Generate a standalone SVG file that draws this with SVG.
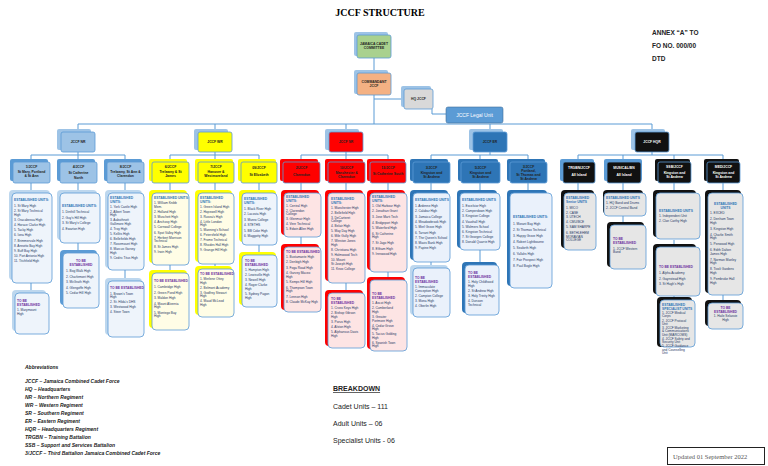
<svg xmlns="http://www.w3.org/2000/svg" width="768" height="466" viewBox="0 0 768 466">
<style>
text{font-family:"Liberation Sans",Arial,sans-serif;}
text.serif{font-family:"Liberation Serif","Times New Roman",serif;}
.bx{stroke:#5b9bd5;stroke-width:0.8}
.lb{stroke:#5b9bd5;stroke-width:0.8}
.c{fill:none;stroke:#5b9bd5;stroke-width:1}
.bl{font-size:3.4px;font-weight:bold;text-anchor:middle;fill:#222}
.w{fill:#fff}
.t{font-size:3.2px;fill:#1f3864}
.h{font-size:3.3px;font-weight:bold;fill:#2e75b6}
.p{font-size:3.3px;font-weight:bold;fill:#7030a0}
.ab{font-size:5px;font-style:italic;font-weight:bold;fill:#222}
.bd{font-size:7px;fill:#222}
</style>
<rect width="768" height="466" fill="#fff"/>
<text class="serif" x="380" y="16" text-anchor="middle" font-weight="bold" font-size="10">JCCF STRUCTURE</text>
<g font-size="6.5" font-weight="bold" fill="#222"><text x="652" y="35">ANNEX “A” TO</text><text x="652" y="48">FO NO. 000/00</text><text x="652" y="61">DTD</text></g>

<g id="connectors" class="c">
<path d="M374 58V73M374 95V124M374 99H404M432 109V114H446M78 124H652M78 124V132M215 124V132M346 124V132M490 124V132M652 124V132"/>
<path d="M78 152V155M31 155H125M31 155V162M78 155V162M125 155V162"/>
<path d="M215 152V155M170 155H259M170 155V162M215 155V162M259 155V162"/>
<path d="M346 152V155M301 155H388M301 155V162M346 155V162M388 155V162"/>
<path d="M490 152V155M431 155H528M431 155V162M480 155V162M528 155V162"/>
<path d="M652 152V155M578 155H723M578 155V162M623 155V162M674 155V162M723 155V162"/>
<path d="M31 183V193M78 183V193M125 183V193M170 183V193M215 183V193M259 183V193M301 183V193M346 183V193M388 183V193M431 183V193M480 183V193M528 183V193M578 183V193M623 183V193M674 183V193M723 183V193"/>
<path d="M31 283V293M78 243V253M125 270V278M170 263V273M215 262V268M259 245V255M301 237V247M346 283V293M388 272V280M431 262V268M480 250V265M623 215V225M674 240V247M674 295V300M723 295V303"/>
</g>

<g id="committee"><rect x="354" y="32" width="34" height="24" rx="2" fill="#9dc3e6"/><rect x="357" y="35" width="34" height="23" rx="2" fill="#a9d18e" class="bx"/><text class="bl" x="374" y="45">JAMAICA CADET</text><text class="bl" x="374" y="49">COMMITTEE</text></g>
<g id="commandant"><rect x="354" y="70" width="34" height="24" rx="2" fill="#9dc3e6"/><rect x="357" y="73" width="34" height="22" rx="2" fill="#f4b183" class="bx"/><text class="bl" x="374" y="83">COMMANDANT</text><text class="bl" x="374" y="87">JCCF</text></g>
<g id="hq"><rect x="401" y="86" width="30" height="21" rx="2" fill="#9dc3e6"/><rect x="404" y="89" width="29" height="20" rx="2" fill="#d9d9d9" class="bx"/><text class="bl" x="418.5" y="100">HQ JCCF</text></g>
<g id="legal"><rect x="446" y="107" width="57" height="16" rx="2" fill="#5b9bd5" stroke="#41719c" stroke-width="0.6"/><text x="474.5" y="117" font-size="5" text-anchor="middle" fill="#fff">JCCF Legal Unit</text></g>

<g id="reg-nr"><rect x="57" y="129" width="34" height="21" rx="2" fill="#9dc3e6"/><rect x="61" y="132" width="34" height="20" rx="2" fill="#9dc3e6" class="bx"/><text class="bl" x="78" y="143">JCCF NR</text></g>
<g id="reg-wr"><rect x="194" y="129" width="34" height="21" rx="2" fill="#9dc3e6"/><rect x="198" y="132" width="34" height="20" rx="2" fill="#ffff00" class="bx"/><text class="bl" x="215" y="143">JCCF WR</text></g>
<g id="reg-sr"><rect x="325" y="129" width="34" height="21" rx="2" fill="#9dc3e6"/><rect x="329" y="132" width="34" height="20" rx="2" fill="#ff0000" class="bx"/><text class="bl" x="346" y="143">JCCF SR</text></g>
<g id="reg-er"><rect x="469" y="129" width="34" height="21" rx="2" fill="#9dc3e6"/><rect x="473" y="132" width="34" height="20" rx="2" fill="#2e75b6" class="bx"/><text class="bl" x="490" y="143">JCCF ER</text></g>
<g id="reg-hqr"><rect x="631" y="129" width="34" height="21" rx="2" fill="#9dc3e6"/><rect x="635" y="132" width="34" height="20" rx="2" fill="#111" class="bx"/><text class="bl w" x="652" y="143">JCCF HQR</text></g>

<g id="bn-1"><rect x="10" y="159" width="38" height="22" rx="2" fill="#5b9bd5"/><rect x="13" y="162" width="37" height="21" rx="2" fill="#9dc3e6" class="bx"/><text class="bl" x="31.5" y="168">1/JCCF</text><text class="bl" x="31.5" y="173">St Mary, Portland</text><text class="bl" x="31.5" y="177">&amp; St Ann</text></g>
<g id="bn-4"><rect x="57" y="159" width="38" height="22" rx="2" fill="#5b9bd5"/><rect x="60" y="162" width="37" height="21" rx="2" fill="#9dc3e6" class="bx"/><text class="bl" x="78.5" y="168">4/JCCF</text><text class="bl" x="78.5" y="174">St Catherine</text><text class="bl" x="78.5" y="179">North</text></g>
<g id="bn-8"><rect x="104" y="159" width="38" height="22" rx="2" fill="#5b9bd5"/><rect x="107" y="162" width="37" height="21" rx="2" fill="#9dc3e6" class="bx"/><text class="bl" x="125.5" y="168">8/JCCF</text><text class="bl" x="125.5" y="173">Trelawny, St Ann &amp;</text><text class="bl" x="125.5" y="177">Clarendon</text></g>
<g id="bn-6"><rect x="149" y="159" width="38" height="22" rx="2" fill="#ffff00"/><rect x="152" y="162" width="37" height="21" rx="2" fill="#ffff00" class="bx"/><text class="bl" x="170.5" y="168">6/JCCF</text><text class="bl" x="170.5" y="173">Trelawny &amp; St</text><text class="bl" x="170.5" y="177">James</text></g>
<g id="bn-7"><rect x="195" y="159" width="38" height="22" rx="2" fill="#ffff00"/><rect x="198" y="162" width="36" height="21" rx="2" fill="#ffff00" class="bx"/><text class="bl" x="216" y="168">7/JCCF</text><text class="bl" x="216" y="173">Hanover &amp;</text><text class="bl" x="216" y="177">Westmoreland</text></g>
<g id="bn-9"><rect x="238" y="159" width="38" height="22" rx="2" fill="#ffff00"/><rect x="241" y="162" width="36" height="21" rx="2" fill="#ffff00" class="bx"/><text class="bl" x="259" y="169">09/JCCF</text><text class="bl" x="259" y="176">St Elizabeth</text></g>
<g id="bn-2"><rect x="280" y="159" width="38" height="22" rx="2" fill="#ff0000"/><rect x="283" y="162" width="37" height="21" rx="2" fill="#ff0000" class="bx"/><text class="bl" x="301.5" y="169">2/JCCF</text><text class="bl" x="301.5" y="176">Clarendon</text></g>
<g id="bn-10"><rect x="325" y="159" width="38" height="22" rx="2" fill="#ff0000"/><rect x="328" y="162" width="37" height="21" rx="2" fill="#ff0000" class="bx"/><text class="bl" x="346.5" y="169">10/JCCF</text><text class="bl" x="346.5" y="174">Manchester &amp;</text><text class="bl" x="346.5" y="178">Clarendon</text></g>
<g id="bn-13"><rect x="367" y="159" width="38" height="22" rx="2" fill="#ff0000"/><rect x="370" y="162" width="36" height="21" rx="2" fill="#ff0000" class="bx"/><text class="bl" x="388" y="169">13/JCCF</text><text class="bl" x="388" y="175">St Catherine South</text></g>
<g id="bn-3"><rect x="410" y="159" width="38" height="22" rx="2" fill="#2e75b6"/><rect x="413" y="162" width="37" height="21" rx="2" fill="#2e75b6" class="bx"/><text class="bl" x="431.5" y="169">3/JCCF</text><text class="bl" x="431.5" y="174">Kingston and</text><text class="bl" x="431.5" y="178">St Andrew</text></g>
<g id="bn-5"><rect x="458" y="159" width="40" height="22" rx="2" fill="#2e75b6"/><rect x="461" y="162" width="39" height="21" rx="2" fill="#2e75b6" class="bx"/><text class="bl" x="480.5" y="169">5/JCCF</text><text class="bl" x="480.5" y="174">Kingston and</text><text class="bl" x="480.5" y="178">St Andrew</text></g>
<g id="bn-p"><rect x="507" y="159" width="38" height="22" rx="2" fill="#2e75b6"/><rect x="510" y="162" width="37" height="21" rx="2" fill="#2e75b6" class="bx"/><text class="bl" x="528.5" y="168">3/JCCF</text><text class="bl" x="528.5" y="172">Portland,</text><text class="bl" x="528.5" y="176">St Thomas and</text><text class="bl" x="528.5" y="180">St Andrew</text></g>
<g id="bn-trg"><rect x="560" y="159" width="34" height="22" rx="2" fill="#5b9bd5"/><rect x="563" y="162" width="32" height="21" rx="2" fill="#111" class="bx"/><text class="bl w" x="579" y="169">TRGBN/JCCF</text><text class="bl w" x="579" y="176">All Island</text></g>
<g id="bn-mus"><rect x="604" y="159" width="38" height="22" rx="2" fill="#5b9bd5"/><rect x="607" y="162" width="34" height="21" rx="2" fill="#111" class="bx"/><text class="bl w" x="624" y="169">MUSICAL/BN</text><text class="bl w" x="624" y="176">All Island</text></g>
<g id="bn-ssb"><rect x="655" y="159" width="35" height="22" rx="2" fill="#111"/><rect x="658" y="162" width="33" height="21" rx="2" fill="#111" class="bx"/><text class="bl w" x="674.5" y="168">SSB/JCCF</text><text class="bl w" x="674.5" y="174">Kingston and</text><text class="bl w" x="674.5" y="178">St Andrew</text></g>
<g id="bn-med"><rect x="704" y="159" width="35" height="22" rx="2" fill="#111"/><rect x="707" y="162" width="33" height="21" rx="2" fill="#111" class="bx"/><text class="bl w" x="723.5" y="168">MED/JCCF</text><text class="bl w" x="723.5" y="174">Kingston and</text><text class="bl w" x="723.5" y="178">St Andrew</text></g>

<g id="l-1e"><rect x="9" y="190" width="41" height="90" rx="4" fill="#bdd7ee"/><rect x="12" y="193" width="40" height="90" rx="4" fill="#eef4fb" class="lb"/>
<text x="14" y="201"><tspan class="h">ESTABLISHED UNITS:</tspan><tspan class="t" x="14" dy="5.5">1. St Mary High</tspan><tspan class="t" x="14" dy="5.2">2. St Mary Technical</tspan><tspan class="t" x="14" dy="3.8">High</tspan><tspan class="t" x="14" dy="5.2">3. Oracabessa High</tspan><tspan class="t" x="14" dy="5.2">4. Horace Clarke High</tspan><tspan class="t" x="14" dy="5.2">5. Tacky High</tspan><tspan class="t" x="14" dy="5.2">6. Iona High</tspan><tspan class="t" x="14" dy="5.2">7. Brimmervale High</tspan><tspan class="t" x="14" dy="5.2">8. Annotto Bay High</tspan><tspan class="t" x="14" dy="5.2">9. Buff Bay High</tspan><tspan class="t" x="14" dy="5.2">10. Port Antonio High</tspan><tspan class="t" x="14" dy="5.2">11. Titchfield High</tspan></text></g>
<g id="l-1t"><rect x="12" y="290" width="34" height="41" rx="4" fill="#bdd7ee"/><rect x="15" y="293" width="34" height="41" rx="4" fill="#eef4fb" class="lb"/>
<text x="17" y="302"><tspan class="p">TO BE</tspan><tspan class="p" x="17" dy="3.8">ESTABLISHED</tspan><tspan class="t" x="17" dy="5.5">1. Marymount</tspan><tspan class="t" x="17" dy="3.8">High</tspan></text></g>
<g id="l-4e"><rect x="57" y="190" width="40" height="50" rx="4" fill="#bdd7ee"/><rect x="60" y="193" width="40" height="50" rx="4" fill="#eef4fb" class="lb"/>
<text x="62" y="207"><tspan class="h">ESTABLISHED UNITS:</tspan><tspan class="t" x="62" dy="6">1. Dinthill Technical</tspan><tspan class="t" x="62" dy="5.5">2. Guy's Hill High</tspan><tspan class="t" x="62" dy="5.5">3. St Mary's College</tspan><tspan class="t" x="62" dy="5.5">4. Ewarton High</tspan></text></g>
<g id="l-4t"><rect x="60" y="250" width="37" height="55" rx="4" fill="#5b9bd5"/><rect x="63" y="253" width="36" height="55" rx="4" fill="#eef4fb" class="lb"/>
<text x="81" y="262" text-anchor="middle"><tspan class="p">TO BE</tspan><tspan class="p" x="81" dy="3.8">ESTABLISHED</tspan></text><text x="66" y="272"><tspan class="t">1. Bog Walk High</tspan><tspan class="t" x="66" dy="5.5">2. Charlemont High</tspan><tspan class="t" x="66" dy="5.5">3. McGrath High</tspan><tspan class="t" x="66" dy="5.5">4. Glengoffe High</tspan><tspan class="t" x="66" dy="5.5">5. Cedar Hill High</tspan></text></g>
<g id="l-8e"><rect x="105" y="190" width="37" height="78" rx="4" fill="#bdd7ee"/><rect x="108" y="193" width="36" height="77" rx="4" fill="#eef4fb" class="lb"/>
<text x="110" y="199"><tspan class="h">ESTABLISHED</tspan><tspan class="h" x="110" dy="3.8">UNITS:</tspan><tspan class="t" x="110" dy="5">1. York Castle High</tspan><tspan class="t" x="110" dy="5">2. Albert Town</tspan><tspan class="t" x="110" dy="3.6">High</tspan><tspan class="t" x="110" dy="5">3. Aabuthnott</tspan><tspan class="t" x="110" dy="3.6">Gallimore High</tspan><tspan class="t" x="110" dy="5">4. Troy High</tspan><tspan class="t" x="110" dy="5">5. Kellits High</tspan><tspan class="t" x="110" dy="5">6. Bellefields High</tspan><tspan class="t" x="110" dy="5">7. Rosemount High</tspan><tspan class="t" x="110" dy="5">8. Marcus Garvey</tspan><tspan class="t" x="110" dy="3.6">High</tspan><tspan class="t" x="110" dy="5">9. Cedric Titus High</tspan></text></g>
<g id="l-8t"><rect x="105" y="278" width="37" height="57" rx="4" fill="#bdd7ee"/><rect x="108" y="281" width="36" height="56" rx="4" fill="#eef4fb" class="lb"/>
<text x="110" y="289"><tspan class="p">TO BE ESTABLISHED</tspan><tspan class="t" x="110" dy="5.5">1. Brown's Town</tspan><tspan class="t" x="110" dy="3.6">High</tspan><tspan class="t" x="110" dy="5">2. St. Hilda's DHS</tspan><tspan class="t" x="110" dy="5">3. Westwood High</tspan><tspan class="t" x="110" dy="5">4. Steer Town</tspan></text></g>

<g id="l-6e"><rect x="149" y="190" width="38" height="73" rx="4" fill="#ffff00"/><rect x="152" y="193" width="37" height="72" rx="4" fill="#fffde6" class="lb"/>
<text x="154" y="199"><tspan class="h">ESTABLISHED UNITS:</tspan><tspan class="t" x="154" dy="5">1. William Knibb</tspan><tspan class="t" x="154" dy="3.6">Mem.</tspan><tspan class="t" x="154" dy="5.2">2. Holland High</tspan><tspan class="t" x="154" dy="5.2">3. Muschett High</tspan><tspan class="t" x="154" dy="5.2">4. Anchovy High</tspan><tspan class="t" x="154" dy="5.2">5. Cornwall College</tspan><tspan class="t" x="154" dy="5.2">6. Spot Valley High</tspan><tspan class="t" x="154" dy="5.2">7. Herbert Morrison</tspan><tspan class="t" x="154" dy="3.6">Technical</tspan><tspan class="t" x="154" dy="5.2">8. St James High</tspan><tspan class="t" x="154" dy="5.2">9. Irwin High</tspan></text></g>
<g id="l-6t"><rect x="149" y="270" width="38" height="58" rx="4" fill="#ffff00"/><rect x="152" y="273" width="37" height="57" rx="4" fill="#fffde6" class="lb"/>
<text x="154" y="282"><tspan class="p">TO BE ESTABLISHED</tspan><tspan class="t" x="154" dy="6">1. Cambridge High</tspan><tspan class="t" x="154" dy="5.5">2. Green Pond High</tspan><tspan class="t" x="154" dy="5.5">3. Maldon High</tspan><tspan class="t" x="154" dy="5.5">4. Mount Alvernia</tspan><tspan class="t" x="154" dy="3.6">High</tspan><tspan class="t" x="154" dy="5.5">5. Montego Bay</tspan><tspan class="t" x="154" dy="3.6">High</tspan></text></g>
<g id="l-7e"><rect x="195" y="190" width="37" height="72" rx="4" fill="#ffff00"/><rect x="198" y="193" width="36" height="71" rx="4" fill="#fffde6" class="lb"/>
<text x="200" y="199"><tspan class="h">ESTABLISHED</tspan><tspan class="h" x="200" dy="3.8">UNITS:</tspan><tspan class="t" x="200" dy="5">1. Green Island High</tspan><tspan class="t" x="200" dy="5">2. Hopewell High</tspan><tspan class="t" x="200" dy="5">3. Rusea's High</tspan><tspan class="t" x="200" dy="5">4. Little London</tspan><tspan class="t" x="200" dy="3.6">High</tspan><tspan class="t" x="200" dy="5">5. Manning's School</tspan><tspan class="t" x="200" dy="5">6. Petersfield High</tspan><tspan class="t" x="200" dy="5">7. Frome Technical</tspan><tspan class="t" x="200" dy="5">8. Rhodes Hall High</tspan><tspan class="t" x="200" dy="5">9. Grange Hill High</tspan></text></g>
<g id="l-7t"><rect x="195" y="266" width="37" height="49" rx="4" fill="#ffff00"/><rect x="198" y="269" width="36" height="48" rx="4" fill="#fffde6" class="lb"/>
<text x="200" y="275"><tspan class="p">TO BE ESTABLISHED</tspan><tspan class="t" x="200" dy="5">1. Merlene Ottey</tspan><tspan class="t" x="200" dy="3.6">High</tspan><tspan class="t" x="200" dy="5">2. Belmont Academy</tspan><tspan class="t" x="200" dy="5">3. Godfrey Stewart</tspan><tspan class="t" x="200" dy="3.6">High</tspan><tspan class="t" x="200" dy="5">4. Maud McLeod</tspan><tspan class="t" x="200" dy="3.6">High</tspan></text></g>
<g id="l-9e"><rect x="239" y="190" width="37" height="52" rx="4" fill="#ffff00"/><rect x="242" y="193" width="35" height="52" rx="4" fill="#eef4fb" class="lb"/>
<text x="244" y="200"><tspan class="h">ESTABLISHED</tspan><tspan class="h" x="244" dy="3.8">UNITS:</tspan><tspan class="t" x="244" dy="6">1. Black River High</tspan><tspan class="t" x="244" dy="5.5">2. Lacovia High</tspan><tspan class="t" x="244" dy="5.5">3. Munro College</tspan><tspan class="t" x="244" dy="5.5">4. STETHS</tspan><tspan class="t" x="244" dy="5.5">5. BB Coke High</tspan><tspan class="t" x="244" dy="5.5">6. Maggotty High</tspan></text></g>
<g id="l-9t"><rect x="239" y="252" width="37" height="53" rx="4" fill="#ffff00"/><rect x="242" y="255" width="35" height="52" rx="4" fill="#eef4fb" class="lb"/>
<text x="245" y="262"><tspan class="p">TO BE</tspan><tspan class="p" x="245" dy="3.8">ESTABLISHED</tspan><tspan class="t" x="245" dy="5.5">1. Hampton High</tspan><tspan class="t" x="245" dy="5">2. Lewisville High</tspan><tspan class="t" x="245" dy="5">3. Newell High</tspan><tspan class="t" x="245" dy="5">4. Roger Clarke</tspan><tspan class="t" x="245" dy="3.6">High</tspan><tspan class="t" x="245" dy="5">5. Sydney Pagon</tspan><tspan class="t" x="245" dy="3.6">High</tspan></text></g>

<g id="l-2e"><rect x="281" y="190" width="38" height="45" rx="4" fill="#ff0000"/><rect x="284" y="193" width="37" height="44" rx="4" fill="#fde4e4" class="lb"/>
<text x="286" y="198"><tspan class="h">ESTABLISHED</tspan><tspan class="h" x="286" dy="3.8">UNITS:</tspan><tspan class="t" x="286" dy="5">1. Central High</tspan><tspan class="t" x="286" dy="5">2. Clarendon</tspan><tspan class="t" x="286" dy="3.6">College</tspan><tspan class="t" x="286" dy="5">3. Glenmuir High</tspan><tspan class="t" x="286" dy="5">4. Vere Technical</tspan><tspan class="t" x="286" dy="5">5. Edwin Allen High</tspan></text></g>
<g id="l-2t"><rect x="281" y="244" width="38" height="66" rx="4" fill="#ff0000"/><rect x="284" y="247" width="37" height="65" rx="4" fill="#fde4e4" class="lb"/>
<text x="286" y="253"><tspan class="p">TO BE ESTABLISHED</tspan><tspan class="t" x="286" dy="5">1. Bustamante High</tspan><tspan class="t" x="286" dy="5.4">2. Denbigh High</tspan><tspan class="t" x="286" dy="5.4">3. Foga Road High</tspan><tspan class="t" x="286" dy="5.4">4. Garvey Maceo</tspan><tspan class="t" x="286" dy="3.6">High</tspan><tspan class="t" x="286" dy="5.4">5. Kemps Hill High</tspan><tspan class="t" x="286" dy="5.4">6. Thompson Town</tspan><tspan class="t" x="286" dy="3.6">High</tspan><tspan class="t" x="286" dy="5.4">7. Lennon High</tspan><tspan class="t" x="286" dy="5.4">8. Claude McKay High</tspan></text></g>
<g id="l-10e"><rect x="325" y="190" width="38" height="91" rx="4" fill="#ff0000"/><rect x="328" y="193" width="37" height="90" rx="4" fill="#fde4e4" class="lb"/>
<text x="331" y="200"><tspan class="h">ESTABLISHED</tspan><tspan class="h" x="331" dy="3.8">UNITS:</tspan><tspan class="t" x="331" dy="5">1. Manchester High</tspan><tspan class="t" x="331" dy="5">2. Bellefield High</tspan><tspan class="t" x="331" dy="5">3. DeCarteret</tspan><tspan class="t" x="331" dy="3.6">College</tspan><tspan class="t" x="331" dy="5">4. Belair High</tspan><tspan class="t" x="331" dy="5">5. May Day High</tspan><tspan class="t" x="331" dy="5">6. Mile Gully High</tspan><tspan class="t" x="331" dy="5">7. Winston Jones</tspan><tspan class="t" x="331" dy="3.6">High</tspan><tspan class="t" x="331" dy="5">8. Christiana High</tspan><tspan class="t" x="331" dy="5">9. Holmwood Tech</tspan><tspan class="t" x="331" dy="5">10. Mount</tspan><tspan class="t" x="331" dy="3.6">St Joseph High</tspan><tspan class="t" x="331" dy="5">11. Knox College</tspan></text></g>
<g id="l-10t"><rect x="325" y="290" width="38" height="56" rx="4" fill="#ff0000"/><rect x="328" y="293" width="37" height="55" rx="4" fill="#fde4e4" class="lb"/>
<text x="331" y="300"><tspan class="p">TO BE</tspan><tspan class="p" x="331" dy="3.8">ESTABLISHED</tspan><tspan class="t" x="331" dy="5.5">1. Cross Keys High</tspan><tspan class="t" x="331" dy="5">2. Bishop Gibson</tspan><tspan class="t" x="331" dy="3.6">High</tspan><tspan class="t" x="331" dy="5">3. Porus High</tspan><tspan class="t" x="331" dy="5">4. Alston High</tspan><tspan class="t" x="331" dy="5">5. Alphansus Davis</tspan><tspan class="t" x="331" dy="3.6">High</tspan></text></g>
<g id="l-13e"><rect x="367" y="190" width="38" height="80" rx="4" fill="#ff0000"/><rect x="370" y="193" width="37" height="79" rx="4" fill="#fde4e4" class="lb"/>
<text x="372" y="198"><tspan class="h">ESTABLISHED</tspan><tspan class="h" x="372" dy="3.8">UNITS:</tspan><tspan class="t" x="372" dy="5">1. Old Harbour High</tspan><tspan class="t" x="372" dy="5.6">2. Jonathan Grant</tspan><tspan class="t" x="372" dy="5.6">3. Jose Marti Tech</tspan><tspan class="t" x="372" dy="5.6">4. Bridgeport High</tspan><tspan class="t" x="372" dy="5.6">5. Waterford High</tspan><tspan class="t" x="372" dy="5.6">6. St Catherine</tspan><tspan class="t" x="372" dy="3.6">High</tspan><tspan class="t" x="372" dy="5.6">7. St Jago High</tspan><tspan class="t" x="372" dy="5.6">8. Eltham High</tspan><tspan class="t" x="372" dy="5.6">9. Innswood High</tspan></text></g>
<g id="l-13t"><rect x="367" y="277" width="38" height="72" rx="4" fill="#ff0000"/><rect x="370" y="280" width="37" height="71" rx="4" fill="#fde4e4" class="lb"/>
<text x="372" y="295"><tspan class="p">TO BE</tspan><tspan class="p" x="372" dy="3.8">ESTABLISHED</tspan><tspan class="t" x="372" dy="5.5">1. Ascot High</tspan><tspan class="t" x="372" dy="5">2. Cumberland</tspan><tspan class="t" x="372" dy="3.6">High</tspan><tspan class="t" x="372" dy="5">3. Greater</tspan><tspan class="t" x="372" dy="3.6">Portmore High</tspan><tspan class="t" x="372" dy="5">4. Cedar Grove</tspan><tspan class="t" x="372" dy="3.6">High</tspan><tspan class="t" x="372" dy="5">5. Tacius Golding</tspan><tspan class="t" x="372" dy="3.6">High</tspan><tspan class="t" x="372" dy="5">6. Spanish Town</tspan><tspan class="t" x="372" dy="3.6">High</tspan></text></g>

<g id="l-3e"><rect x="410" y="190" width="38" height="70" rx="4" fill="#2e75b6"/><rect x="413" y="193" width="37" height="69" rx="4" fill="#eaf1fb" class="lb"/>
<text x="415" y="201"><tspan class="h">ESTABLISHED UNITS</tspan><tspan class="t" x="415" dy="6">1. Ardenne High</tspan><tspan class="t" x="415" dy="5.3">2. Calabar High</tspan><tspan class="t" x="415" dy="5.3">3. Jamaica College</tspan><tspan class="t" x="415" dy="5.3">4. Meadowbrook High</tspan><tspan class="t" x="415" dy="5.3">5. Merl Grove High</tspan><tspan class="t" x="415" dy="5.3">6. Tarrant High</tspan><tspan class="t" x="415" dy="5.3">7. The Queen's School</tspan><tspan class="t" x="415" dy="5.3">8. Mavis Bank High</tspan><tspan class="t" x="415" dy="5.3">9. Papine High</tspan></text></g>
<g id="l-3t"><rect x="410" y="265" width="38" height="50" rx="4" fill="#bdd7ee"/><rect x="413" y="268" width="37" height="49" rx="4" fill="#eaf1fb" class="lb"/>
<text x="415" y="279"><tspan class="p">TO BE</tspan><tspan class="p" x="415" dy="3.8">ESTABLISHED</tspan><tspan class="t" x="415" dy="5.5">1. Immaculate</tspan><tspan class="t" x="415" dy="3.6">Conception High</tspan><tspan class="t" x="415" dy="5">2. Campion College</tspan><tspan class="t" x="415" dy="5">3. Mona High</tspan><tspan class="t" x="415" dy="5">4. Oberlin High</tspan></text></g>
<g id="l-5e"><rect x="457" y="190" width="40" height="58" rx="4" fill="#2e75b6"/><rect x="460" y="193" width="40" height="57" rx="4" fill="#eaf1fb" class="lb"/>
<text x="462" y="201"><tspan class="h">ESTABLISHED UNITS</tspan><tspan class="t" x="462" dy="6">1. Excelsior High</tspan><tspan class="t" x="462" dy="5.2">2. Camperdown High</tspan><tspan class="t" x="462" dy="5.2">3. Kingston College</tspan><tspan class="t" x="462" dy="5.2">4. Vauxhall High</tspan><tspan class="t" x="462" dy="5.2">5. Wolmers School</tspan><tspan class="t" x="462" dy="5.2">6. Kingston Technical</tspan><tspan class="t" x="462" dy="5.2">7. St Georges College</tspan><tspan class="t" x="462" dy="5.2">8. Donald Quarrie High</tspan></text></g>
<g id="l-5t"><rect x="462" y="262" width="35" height="51" rx="4" fill="#2e75b6"/><rect x="465" y="265" width="34" height="50" rx="4" fill="#eaf1fb" class="lb"/>
<text x="468" y="274"><tspan class="p">TO BE</tspan><tspan class="p" x="468" dy="3.8">ESTABLISHED</tspan><tspan class="t" x="468" dy="5.5">1. Holy Childhood</tspan><tspan class="t" x="468" dy="3.6">High</tspan><tspan class="t" x="468" dy="5">2. St Andrew High</tspan><tspan class="t" x="468" dy="5">3. Holy Trinity High</tspan><tspan class="t" x="468" dy="5">4. Dunoon</tspan><tspan class="t" x="468" dy="3.6">Technical</tspan></text></g>
<g id="l-pe"><rect x="507" y="190" width="40" height="96" rx="4" fill="#2e75b6"/><rect x="510" y="193" width="42" height="95" rx="4" fill="#eaf1fb" class="lb"/>
<text x="513" y="218"><tspan class="h">ESTABLISHED UNITS:</tspan><tspan class="t" x="513" dy="7">1. Morant Bay High</tspan><tspan class="t" x="513" dy="6">2. St Thomas Technical</tspan><tspan class="t" x="513" dy="6">3. Happy Grove High</tspan><tspan class="t" x="513" dy="6">4. Robert Lightbourne</tspan><tspan class="t" x="513" dy="6">5. Seaforth High</tspan><tspan class="t" x="513" dy="6">6. Yallahs High</tspan><tspan class="t" x="513" dy="6">7. Fair Prospect High</tspan><tspan class="t" x="513" dy="6">8. Paul Bogle High</tspan></text></g>

<g id="l-trg"><rect x="561" y="190" width="33" height="58" rx="4" fill="#111"/><rect x="564" y="193" width="32" height="57" rx="4" fill="#e6e6e6" class="lb"/>
<text x="566" y="199"><tspan class="h">ESTABLISHED</tspan><tspan class="h" x="566" dy="3.8">Senior  UNITS</tspan><tspan class="t" x="566" dy="6">1. MICO</tspan><tspan class="t" x="566" dy="5">2. CASE</tspan><tspan class="t" x="566" dy="4">3. UTECH</tspan><tspan class="t" x="566" dy="5">4. CMU/BCE</tspan><tspan class="t" x="566" dy="5.5">5. SAM SHARPE</tspan><tspan class="t" x="566" dy="6">6. BETHLEHEM</tspan><tspan class="t" x="566" dy="3.3">MORAVIAN</tspan><tspan class="t" x="566" dy="3.3">COLLEGE</tspan></text></g>
<g id="l-mus"><rect x="603" y="190" width="40" height="24" rx="4" fill="#111"/><rect x="604" y="193" width="42" height="23" rx="4" fill="#e6e6e6" class="lb"/>
<text x="606" y="199"><tspan class="h">ESTABLISHED UNITS</tspan><tspan class="t" x="606" dy="5">1. HQ Band and Drums</tspan><tspan class="t" x="606" dy="5">2. JCCF Central Band</tspan></text></g>
<g id="l-must"><rect x="607" y="222" width="37" height="45" rx="4" fill="#111"/><rect x="610" y="225" width="36" height="44" rx="4" fill="#e6e6e6" class="lb"/>
<text x="613" y="240"><tspan class="p">TO BE</tspan><tspan class="p" x="613" dy="3.8">ESTABLISHED</tspan><tspan class="t" x="613" dy="6">1. JCCF Western</tspan><tspan class="t" x="613" dy="3.6">Band</tspan></text></g>
<g id="l-ssbe"><rect x="653" y="190" width="43" height="47" rx="4" fill="#111"/><rect x="656" y="193" width="44" height="46" rx="4" fill="#e6e6e6" class="lb"/>
<text x="659" y="212"><tspan class="h">ESTABLISHED UNITS</tspan><tspan class="t" x="659" dy="5">1. Independent Unit</tspan><tspan class="t" x="659" dy="5">2. Clan Carthy High</tspan></text></g>
<g id="l-ssbt"><rect x="653" y="244" width="43" height="50" rx="4" fill="#111"/><rect x="656" y="247" width="44" height="49" rx="4" fill="#e6e6e6" class="lb"/>
<text x="659" y="268"><tspan class="p">TO BE ESTABLISHED</tspan><tspan class="t" x="659" dy="6">1. Alpha Academy</tspan><tspan class="t" x="659" dy="5.5">2. Gaynstead High</tspan><tspan class="t" x="659" dy="5.5">3. St Hugh's High</tspan></text></g>
<g id="l-ssbs"><rect x="657" y="297" width="35" height="50" rx="4" fill="#111"/><rect x="660" y="300" width="35" height="47" rx="4" fill="#e6e6e6" class="lb"/>
<text x="662" y="306"><tspan class="h">ESTABLISHED</tspan><tspan class="h" x="662" dy="3.6">SPECIALIST UNITS</tspan><tspan class="t" x="662" dy="4.5">1. JCCF Medical</tspan><tspan class="t" x="662" dy="3.3">Corps</tspan><tspan class="t" x="662" dy="4.2">2. JCCF Protocol</tspan><tspan class="t" x="662" dy="3.3">Unit</tspan><tspan class="t" x="662" dy="4.2">3. JCCF Marketing</tspan><tspan class="t" x="662" dy="3.3">&amp; Communications</tspan><tspan class="t" x="662" dy="3.3">Unit (MARCOMS)</tspan><tspan class="t" x="662" dy="4.2">4. JCCF Safety and</tspan><tspan class="t" x="662" dy="3.3">Security Unit</tspan><tspan class="t" x="662" dy="4.2">5. JCCF Guidance</tspan><tspan class="t" x="662" dy="3.3">and Counselling</tspan><tspan class="t" x="662" dy="3.3">Unit</tspan></text></g>
<g id="l-mede"><rect x="705" y="190" width="36" height="103" rx="4" fill="#111"/><rect x="708" y="193" width="35" height="102" rx="4" fill="#e6e6e6" class="lb"/>
<text x="725.5" y="205" text-anchor="middle"><tspan class="h">ESTABLISHED</tspan><tspan class="h" x="725.5" dy="3.8">UNITS</tspan></text><text x="710" y="214"><tspan class="t">1. EXCED</tspan><tspan class="t" x="710" dy="6">2. Denham Town</tspan><tspan class="t" x="710" dy="3.6">High</tspan><tspan class="t" x="710" dy="6">3. Kingston High</tspan><tspan class="t" x="710" dy="6">4. Charlie Smith</tspan><tspan class="t" x="710" dy="3.6">High</tspan><tspan class="t" x="710" dy="6">5. Penwood High</tspan><tspan class="t" x="710" dy="6">6. Edith Dalton</tspan><tspan class="t" x="710" dy="3.6">James High</tspan><tspan class="t" x="710" dy="6">7. Norman Manley</tspan><tspan class="t" x="710" dy="3.6">High</tspan><tspan class="t" x="710" dy="6">8. Tivoli Gardens</tspan><tspan class="t" x="710" dy="3.6">High</tspan><tspan class="t" x="710" dy="6">9. Pembroke Hall</tspan><tspan class="t" x="710" dy="3.6">High</tspan></text></g>
<g id="l-medt"><rect x="705" y="300" width="36" height="26" rx="4" fill="#111"/><rect x="708" y="303" width="35" height="26" rx="4" fill="#e6e6e6" class="lb"/>
<text x="725.5" y="309" text-anchor="middle"><tspan class="p">TO BE</tspan><tspan class="p" x="725.5" dy="3.8">ESTABLISHED</tspan><tspan class="t" x="725.5" dy="4.5">1. Haile Selassie</tspan><tspan class="t" x="725.5" dy="3.6">High</tspan></text></g>

<g id="abbrev">
<text class="ab" x="25" y="369">Abbreviations</text>
<text class="ab" x="25" y="383">JCCF  – Jamaica Combined Cadet Force</text>
<text class="ab" x="25" y="391">HQ    – Headquarters</text>
<text class="ab" x="25" y="399">NR    – Northern Regiment</text>
<text class="ab" x="25" y="407">WR    – Western Regiment</text>
<text class="ab" x="25" y="415">SR    – Southern Regiment</text>
<text class="ab" x="25" y="423">ER    – Eastern Regiment</text>
<text class="ab" x="25" y="431">HQR  – Headquarters Regiment</text>
<text class="ab" x="25" y="439">TRGBN – Training Battalion</text>
<text class="ab" x="25" y="447">SSB      – Support and Services Battalion</text>
<text class="ab" x="25" y="455">3/JCCF – Third Battalion Jamaica Combined Cadet Force</text>
</g>
<g id="breakdown">
<text class="bd" x="333" y="391" font-weight="bold" text-decoration="underline">BREAKDOWN</text>
<text class="bd" x="333" y="409">Cadet Units – 111</text>
<text class="bd" x="333" y="426">Adult Units – 06</text>
<text class="bd" x="333" y="443">Specialist Units - 06</text>
</g>
<g id="updated"><rect x="667.5" y="447.5" width="97" height="17" fill="#fff" stroke="#222" stroke-width="1"/><text class="serif" x="673" y="459" font-size="6.5" fill="#555">Updated 01 September 2022</text></g>
</svg>
